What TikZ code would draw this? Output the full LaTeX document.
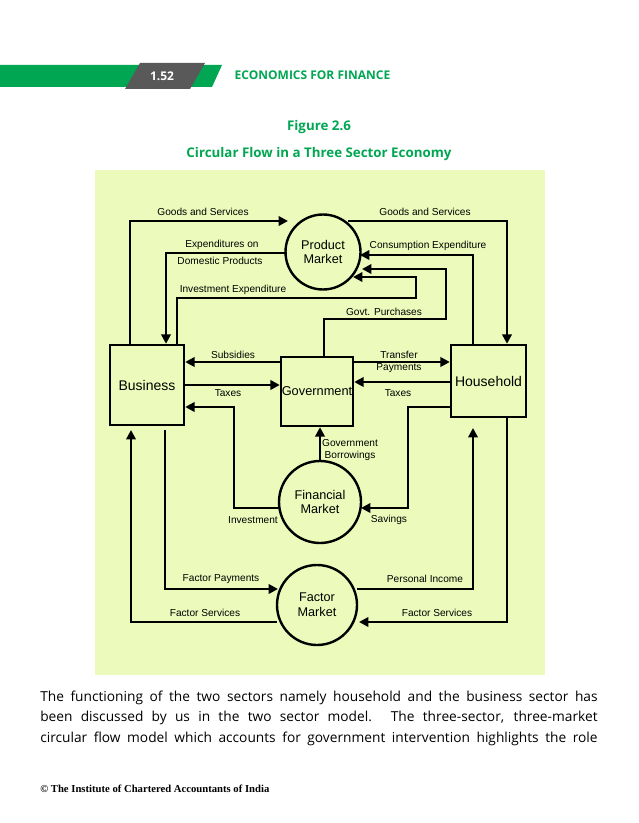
\documentclass[tikz,border=0pt]{standalone}
\usepackage{fontspec}
\setmainfont{Open Sans}
\newfontfamily\diag{Liberation Sans}
\newfontfamily\foot{Liberation Serif}
\usetikzlibrary{arrows.meta}
\definecolor{icaigreen}{HTML}{00A651}
\definecolor{bgpale}{HTML}{ECFBBB}
\begin{document}
\begin{tikzpicture}[x=0.75pt,y=-0.75pt,
  flow/.style={line width=1.8pt,-{Triangle[length=7pt,width=7pt]}},
  lbl/.style={font=\diag\fontsize{7.6}{8.6}\selectfont,inner sep=0pt,align=center},
  box/.style={draw,line width=1.8pt,fill=bgpale,inner sep=0pt,font=\diag\fontsize{9.6}{12}\selectfont},
  mkt/.style={draw,circle,line width=1.8pt,fill=bgpale,inner sep=0pt,align=center,font=\diag\fontsize{9.5}{11}\selectfont}]
\useasboundingbox (0,0) rectangle (638,823);
% header
\fill[icaigreen] (0,65) -- (222,65) -- (212,87) -- (0,87) -- cycle;
\fill[black!65] (140,63) -- (205,63) -- (190,89) -- (125,89) -- cycle;
\node[text=white,font=\bfseries\fontsize{9}{10}\selectfont] (pg) at (162,76) {1.52};
\node[text=icaigreen,font=\bfseries\fontsize{9}{10}\selectfont,anchor=west] (hd) at (230,75) {ECONOMICS FOR FINANCE};
\node[text=icaigreen,font=\bfseries\fontsize{10}{12}\selectfont] (fg) at (319,127) {Figure 2.6};
\node[text=icaigreen,font=\bfseries\fontsize{10}{12}\selectfont] (tt) at (319,154) {Circular Flow in a Three Sector Economy};
% background
\fill[bgpale] (95,170) rectangle (545,675);
% nodes
\node[box,minimum width=74*0.75pt,minimum height=80*0.75pt,font=\diag\fontsize{10.5}{12}\selectfont] (bus) at (147,385) {Business};
\node[box,minimum width=72*0.75pt,minimum height=69*0.75pt] (gov) at (317,391.5) {Government};
\node[box,minimum width=75*0.75pt,minimum height=72*0.75pt,font=\diag\fontsize{10.5}{12}\selectfont] (hh) at (488.5,381) {Household};
\node[mkt,minimum size=75*0.75pt] (pm) at (323,252) {Product\\Market};
\node[mkt,minimum size=82*0.75pt] (fm) at (320,502) {Financial\\Market};
\node[mkt,minimum size=80*0.75pt] (fa) at (317,605) {Factor\\Market};
% connectors
\draw[flow] (bus.north -| 130,0) |- (288,221);
\draw[flow] (348,221) -| (hh.north -| 507,0);
\draw[flow] (287,253) -| (bus.north -| 166,0);
\draw[flow] (hh.north -| 473,0) |- (360,255);
\draw[flow] (gov.north -| 324,0) |- (446,319) |- (362,269);
\draw[flow] (bus.north -| 177,0) |- (416,298) |- (353,277);
\draw[flow] (gov.west |- 0,362) -- (bus.east |- 0,362);
\draw[flow] (bus.east |- 0,385) -- (gov.west |- 0,385);
\draw[flow] (gov.east |- 0,362) -- (hh.west |- 0,362);
\draw[flow] (hh.west |- 0,382) -- (gov.east |- 0,382);
\draw[flow] (280,508) -| (234,407) -- (bus.east |- 0,407);
\draw[flow] (hh.west |- 0,407) -| (408,508) -- (361,508);
\draw[flow] (fm.north) -- (gov.south -| fm.north);
\draw[flow] (165,430) |- (278,589);
\draw[flow] (357,589) -| (473,428);
\draw[flow] (hh.south -| 507,0) |- (359,622);
\draw[flow] (277,622) -| (131,430);
% labels
\node[lbl] (l1) at (203,212) {Goods and Services};
\node[lbl] (l2) at (425,212) {Goods and Services};
\node[lbl] (l3) at (222,245) {Expenditures on};
\node[lbl] (l4) at (220,261) {Domestic Products};
\node[lbl] (l5) at (428,246) {Consumption Expenditure};
\node[lbl] (l6) at (233,290) {Investment Expenditure};
\node[lbl] (l7) at (384,312) {Govt. Purchases};
\node[lbl] (l8) at (233,355) {Subsidies};
\node[lbl] (l9) at (228,393) {Taxes};
\node[lbl] (l10) at (399,362) {Transfer\\Payments};
\node[lbl] (l11) at (398,393) {Taxes};
\node[lbl] (l12) at (253,520) {Investment};
\node[lbl] (l13) at (389,520) {Savings};
\node[lbl] (l14) at (350,450) {Government\\Borrowings};
\node[lbl] (l15) at (221,579) {Factor Payments};
\node[lbl] (l16) at (425,579) {Personal Income};
\node[lbl] (l17) at (205,613) {Factor Services};
\node[lbl] (l18) at (437,613) {Factor Services};
% body text
\begin{scope}[every node/.style={anchor=west,inner sep=0pt,font=\fontsize{10.3}{12}\selectfont}]
\node (b1) at (40,698) {\makebox[418pt][s]{The functioning of the two sectors namely household and the business sector has}};
\node (b2) at (40,718) {\makebox[418pt][s]{been discussed by us in the two sector model. The three-sector, three-market}};
\node (b3) at (40,739) {\makebox[418pt][s]{circular flow model which accounts for government intervention highlights the role}};
\end{scope}
\node[anchor=west,inner sep=0pt,font=\foot\bfseries\fontsize{8}{10}\selectfont] (ft) at (40,789) {© The Institute of Chartered Accountants of India};
\end{tikzpicture}
\end{document}
